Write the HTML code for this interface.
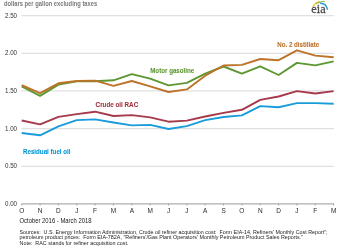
<!DOCTYPE html>
<html><head><meta charset="utf-8"><style>
html,body{margin:0;padding:0;background:#fff;width:338px;height:249px;overflow:hidden}
svg{display:block;filter:brightness(1.001)}
text{font-family:"Liberation Sans",sans-serif}
</style></head><body>
<svg width="338" height="249" viewBox="0 0 338 249">
<text transform="translate(4.00,6.10) scale(1,1.12)" font-size="5.8" fill="#7a7a7a" font-weight="bold" xml:space="preserve">dollars per gallon excluding taxes</text>
<g fill="none" stroke-linecap="round">
<path d="M313.2,6.2 Q315,2.8 319,1.6" stroke="#f3c846" stroke-width="1.6"/>
<path d="M316.5,3.6 Q320,1.6 324.5,1.2" stroke="#8dbb4c" stroke-width="1.1"/>
<path d="M320.5,3.2 Q326.5,3.4 327.3,9.2" stroke="#2a9fd8" stroke-width="1.5"/>
</g>
<text x="311.2" y="12.9" style="font-family:'Liberation Serif',serif" font-size="12.4" fill="#4a4a4a" stroke="#4a4a4a" stroke-width="0.25" transform="translate(311.2,12.9) scale(1,1.08) translate(-311.2,-12.9)">eia</text>
<g><line x1="21.5" x2="333.9" y1="166.25" y2="166.25" stroke="#e0e0e0" stroke-width="1.25"/>
<line x1="21.5" x2="333.9" y1="128.60" y2="128.60" stroke="#e0e0e0" stroke-width="1.25"/>
<line x1="21.5" x2="333.9" y1="90.95" y2="90.95" stroke="#e0e0e0" stroke-width="1.25"/>
<line x1="21.5" x2="333.9" y1="53.30" y2="53.30" stroke="#e0e0e0" stroke-width="1.25"/>
<line x1="21.5" x2="333.9" y1="15.65" y2="15.65" stroke="#e0e0e0" stroke-width="1.25"/>
</g>
<line x1="21.5" x2="333.9" y1="203.90" y2="203.90" stroke="#999" stroke-width="1"/>
<line x1="21.70" x2="21.70" y1="203.90" y2="205.40" stroke="#888" stroke-width="0.8"/>
<line x1="40.05" x2="40.05" y1="203.90" y2="205.40" stroke="#888" stroke-width="0.8"/>
<line x1="58.40" x2="58.40" y1="203.90" y2="205.40" stroke="#888" stroke-width="0.8"/>
<line x1="76.75" x2="76.75" y1="203.90" y2="205.40" stroke="#888" stroke-width="0.8"/>
<line x1="95.10" x2="95.10" y1="203.90" y2="205.40" stroke="#888" stroke-width="0.8"/>
<line x1="113.45" x2="113.45" y1="203.90" y2="205.40" stroke="#888" stroke-width="0.8"/>
<line x1="131.80" x2="131.80" y1="203.90" y2="205.40" stroke="#888" stroke-width="0.8"/>
<line x1="150.15" x2="150.15" y1="203.90" y2="205.40" stroke="#888" stroke-width="0.8"/>
<line x1="168.50" x2="168.50" y1="203.90" y2="205.40" stroke="#888" stroke-width="0.8"/>
<line x1="186.85" x2="186.85" y1="203.90" y2="205.40" stroke="#888" stroke-width="0.8"/>
<line x1="205.20" x2="205.20" y1="203.90" y2="205.40" stroke="#888" stroke-width="0.8"/>
<line x1="223.55" x2="223.55" y1="203.90" y2="205.40" stroke="#888" stroke-width="0.8"/>
<line x1="241.90" x2="241.90" y1="203.90" y2="205.40" stroke="#888" stroke-width="0.8"/>
<line x1="260.25" x2="260.25" y1="203.90" y2="205.40" stroke="#888" stroke-width="0.8"/>
<line x1="278.60" x2="278.60" y1="203.90" y2="205.40" stroke="#888" stroke-width="0.8"/>
<line x1="296.95" x2="296.95" y1="203.90" y2="205.40" stroke="#888" stroke-width="0.8"/>
<line x1="315.30" x2="315.30" y1="203.90" y2="205.40" stroke="#888" stroke-width="0.8"/>
<line x1="333.65" x2="333.65" y1="203.90" y2="205.40" stroke="#888" stroke-width="0.8"/>
<text transform="translate(5.00,206.00) scale(1,1.12)" font-size="6.2" fill="#333" xml:space="preserve">0.00</text>
<text transform="translate(5.00,168.35) scale(1,1.12)" font-size="6.2" fill="#333" xml:space="preserve">0.50</text>
<text transform="translate(5.00,130.70) scale(1,1.12)" font-size="6.2" fill="#333" xml:space="preserve">1.00</text>
<text transform="translate(5.00,93.05) scale(1,1.12)" font-size="6.2" fill="#333" xml:space="preserve">1.50</text>
<text transform="translate(5.00,55.40) scale(1,1.12)" font-size="6.2" fill="#333" xml:space="preserve">2.00</text>
<text transform="translate(5.00,17.75) scale(1,1.12)" font-size="6.2" fill="#333" xml:space="preserve">2.50</text>
<text transform="translate(21.70,212.70) scale(1,1.12)" font-size="6.5" fill="#2a2a2a" text-anchor="middle" xml:space="preserve">O</text>
<text transform="translate(40.05,212.70) scale(1,1.12)" font-size="6.5" fill="#2a2a2a" text-anchor="middle" xml:space="preserve">N</text>
<text transform="translate(58.40,212.70) scale(1,1.12)" font-size="6.5" fill="#2a2a2a" text-anchor="middle" xml:space="preserve">D</text>
<text transform="translate(76.75,212.70) scale(1,1.12)" font-size="6.5" fill="#2a2a2a" text-anchor="middle" xml:space="preserve">J</text>
<text transform="translate(95.10,212.70) scale(1,1.12)" font-size="6.5" fill="#2a2a2a" text-anchor="middle" xml:space="preserve">F</text>
<text transform="translate(113.45,212.70) scale(1,1.12)" font-size="6.5" fill="#2a2a2a" text-anchor="middle" xml:space="preserve">M</text>
<text transform="translate(131.80,212.70) scale(1,1.12)" font-size="6.5" fill="#2a2a2a" text-anchor="middle" xml:space="preserve">A</text>
<text transform="translate(150.15,212.70) scale(1,1.12)" font-size="6.5" fill="#2a2a2a" text-anchor="middle" xml:space="preserve">M</text>
<text transform="translate(168.50,212.70) scale(1,1.12)" font-size="6.5" fill="#2a2a2a" text-anchor="middle" xml:space="preserve">J</text>
<text transform="translate(186.85,212.70) scale(1,1.12)" font-size="6.5" fill="#2a2a2a" text-anchor="middle" xml:space="preserve">J</text>
<text transform="translate(205.20,212.70) scale(1,1.12)" font-size="6.5" fill="#2a2a2a" text-anchor="middle" xml:space="preserve">A</text>
<text transform="translate(223.55,212.70) scale(1,1.12)" font-size="6.5" fill="#2a2a2a" text-anchor="middle" xml:space="preserve">S</text>
<text transform="translate(241.90,212.70) scale(1,1.12)" font-size="6.5" fill="#2a2a2a" text-anchor="middle" xml:space="preserve">O</text>
<text transform="translate(260.25,212.70) scale(1,1.12)" font-size="6.5" fill="#2a2a2a" text-anchor="middle" xml:space="preserve">N</text>
<text transform="translate(278.60,212.70) scale(1,1.12)" font-size="6.5" fill="#2a2a2a" text-anchor="middle" xml:space="preserve">D</text>
<text transform="translate(296.95,212.70) scale(1,1.12)" font-size="6.5" fill="#2a2a2a" text-anchor="middle" xml:space="preserve">J</text>
<text transform="translate(315.30,212.70) scale(1,1.12)" font-size="6.5" fill="#2a2a2a" text-anchor="middle" xml:space="preserve">F</text>
<text transform="translate(333.65,212.70) scale(1,1.12)" font-size="6.5" fill="#2a2a2a" text-anchor="middle" xml:space="preserve">M</text>
<g fill="none" stroke-width="1.9" stroke-linejoin="round">
<polyline points="21.70,133.00 40.05,135.30 58.40,126.40 76.75,120.10 95.10,119.40 113.45,122.50 131.80,125.40 150.15,124.90 168.50,129.00 186.85,126.10 205.20,120.10 223.55,117.00 241.90,115.40 260.25,106.10 278.60,107.30 296.95,103.10 315.30,103.10 333.65,103.80" stroke="#1a9cdb"/>
<polyline points="21.70,120.50 40.05,124.40 58.40,116.90 76.75,114.10 95.10,111.70 113.45,116.00 131.80,115.10 150.15,117.40 168.50,121.70 186.85,120.60 205.20,116.50 223.55,112.90 241.90,109.80 260.25,99.90 278.60,96.50 296.95,91.10 315.30,93.50 333.65,91.10" stroke="#a6394b"/>
<polyline points="21.70,86.30 40.05,95.90 58.40,84.60 76.75,81.40 95.10,81.30 113.45,80.30 131.80,74.20 150.15,78.60 168.50,85.40 186.85,82.90 205.20,73.70 223.55,66.50 241.90,73.60 260.25,66.30 278.60,75.00 296.95,62.90 315.30,65.40 333.65,61.40" stroke="#5d9732"/>
<polyline points="21.70,85.10 40.05,93.20 58.40,83.30 76.75,81.00 95.10,80.60 113.45,85.80 131.80,81.00 150.15,86.30 168.50,92.00 186.85,89.40 205.20,75.70 223.55,65.50 241.90,64.90 260.25,59.00 278.60,60.20 296.95,50.30 315.30,55.60 333.65,57.30" stroke="#bd732a"/>
</g>
<text transform="translate(150.20,73.05) scale(1,1.12)" font-size="6.2" fill="#5d9732" font-weight="bold" stroke="#5d9732" stroke-width="0.08" xml:space="preserve">Motor gasoline</text>
<text transform="translate(277.20,46.70) scale(1,1.12)" font-size="6.2" fill="#bd732a" font-weight="bold" stroke="#bd732a" stroke-width="0.08" xml:space="preserve">No. 2 distillate</text>
<text transform="translate(95.60,107.20) scale(1,1.12)" font-size="6.3" fill="#a33340" font-weight="bold" stroke="#a33340" stroke-width="0.08" xml:space="preserve">Crude oil RAC</text>
<text transform="translate(23.00,154.20) scale(1,1.12)" font-size="6.2" fill="#0096d7" font-weight="bold" stroke="#0096d7" stroke-width="0.08" xml:space="preserve">Residual fuel oil</text>
<text transform="translate(19.50,222.90) scale(1,1.12)" font-size="5.9" fill="#222" xml:space="preserve">October 2016 - March 2018</text>
<g><text transform="translate(19.50,233.60) scale(1,1.12)" font-size="5.37" fill="#222" xml:space="preserve">Sources:  U.S. Energy Information Administration, Crude oil refiner acquisition cost:  Form EIA-14, Refiners' Monthly Cost Report";</text>
<text transform="translate(19.50,238.90) scale(1,1.12)" font-size="5.4" fill="#222" xml:space="preserve">petroleum product prices:  Form EIA-782A, "Refiners'/Gas Plant Operators' Monthly Petroleum Product Sales Reports."</text>
<text transform="translate(19.50,244.60) scale(1,1.12)" font-size="5.4" fill="#222" xml:space="preserve">Note:  RAC stands for refiner acquisition cost.</text>
</g></svg>
</body></html>
